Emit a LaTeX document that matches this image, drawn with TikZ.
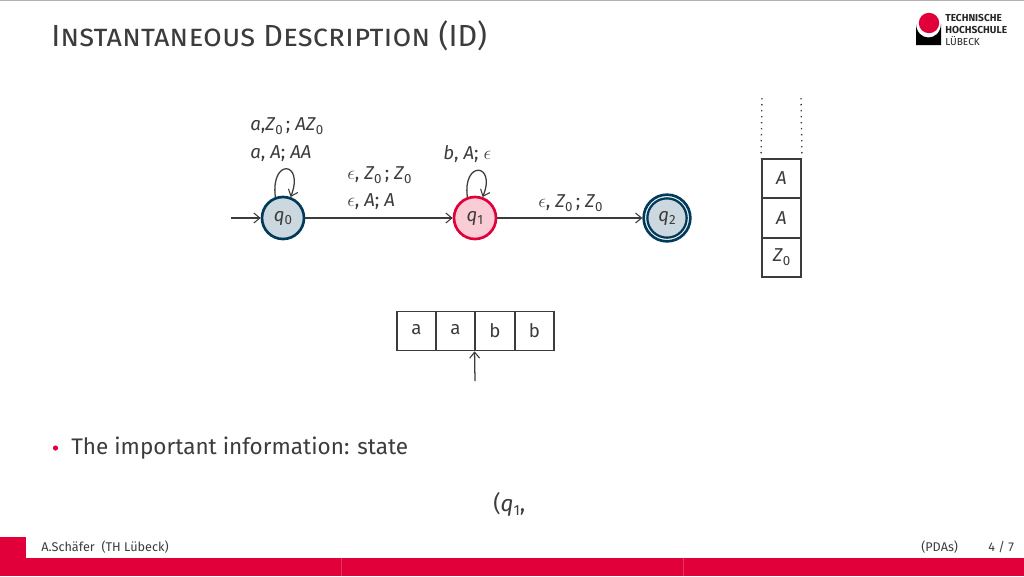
\documentclass[tikz,border=0pt]{standalone}
\usepackage{fontspec}
\setmainfont[Scale=1]{Fira Sans}
\usetikzlibrary{arrows.meta}
\definecolor{thred}{HTML}{E2003A}
\definecolor{thblue}{HTML}{003B5C}
\definecolor{q0fill}{HTML}{CCD8E0}
\definecolor{q1fill}{HTML}{F9CCD6}
\definecolor{ink}{HTML}{3C3C3C}
\newcommand{\mi}[1]{\textit{#1}}
\newcommand{\sbs}[1]{\raisebox{-0.2em}{\fontsize{10}{10}\selectfont #1}}
\tikzset{
  x=0.75pt,y=-0.75pt,
  every node/.style={text=ink,font=\fontsize{14}{16}\selectfont},
  conn/.style={draw=ink,line width=0.95pt,-{Straight Barb[length=4.5pt,width=7.5pt,line width=0.8pt]}},
  state/.style={circle,minimum size=31.5pt,inner sep=0pt,line width=2pt},
  cell/.style={draw=ink,line width=1.2pt,minimum width=29.5pt,minimum height=29.3pt,inner sep=0pt,anchor=center},
  lab/.style={anchor=west,inner sep=0pt},
  foot/.style={font=\fontsize{9.5}{11}\selectfont,inner sep=0pt,text=ink},
  logo/.style={font=\fontsize{7.6}{9}\selectfont\bfseries,text=black!85,inner sep=0pt,anchor=west}
}
\begin{document}
\begin{tikzpicture}
\useasboundingbox (0,0) rectangle (1024,576);
\fill[white] (0,0) rectangle (1024,576);
\fill[black!30] (0,0) rectangle (1024,1);
% title
\node[anchor=west,inner sep=0pt,font=\fontsize{22.9}{26}\selectfont,text=ink] (title) at (51,36) {\scshape Instantaneous Description (ID)};
% logo
\fill[black] (916,24) -- (916,45) -- (941,45) -- (941,24) .. controls (940,42) and (917,42) .. (916,24) -- cycle;
\fill[thred] (929,23) circle (10.2);
\node[logo] (l1) at (945,18) {TECHNISCHE};
\node[logo] (l2) at (945,29.5) {HOCHSCHULE};
\node[logo,font=\fontsize{7.6}{9}\selectfont] (l3) at (945,41) {LÜBECK};
% states
\node[state,draw=thblue,fill=q0fill] (q0) at (283,218) {\mi{q}\sbs{0}};
\node[state,draw=thred,fill=q1fill] (q1) at (475,218) {\mi{q}\sbs{1}};
\node[circle,draw=thblue,fill=white,line width=2pt,minimum size=35pt,inner sep=0pt] (q2o) at (667,218) {};
\node[state,draw=thblue,fill=q0fill,minimum size=29.5pt,line width=1.7pt] (q2) at (667,218) {\mi{q}\sbs{2}};
\coordinate (start) at (231,218);
\draw[conn] (start) -- (q0);
\draw[conn] (q0) -- (q1);
\draw[conn] (q1) -- (q2o);
\draw[conn] (q0.110) .. controls +(-5,-39) and +(14,-36) .. (q0.70);
\draw[conn] (q1.110) .. controls +(-5,-37) and +(14,-34) .. (q1.70);
% labels
\node[lab] (la1) at (250,126) {\mi{a},\mi{Z}\sbs{0}\,; \mi{AZ}\sbs{0}};
\node[lab] (la2) at (250,153.5) {\mi{a}, \mi{A}; \mi{AA}};
\node[lab] (la3) at (347,175) {$\epsilon$, \mi{Z}\sbs{0}\,; \mi{Z}\sbs{0}};
\node[lab] (la4) at (347,202) {$\epsilon$, \mi{A}; \mi{A}};
\node[lab] (la5) at (443,154) {\mi{b}, \mi{A}; $\epsilon$};
\node[lab] (la6) at (538,203) {$\epsilon$, \mi{Z}\sbs{0}\,; \mi{Z}\sbs{0}};
% stack
\node[cell] (s1) at (781.5,178.5) {\mi{A}};
\node[cell] (s2) at (781.5,218) {\mi{A}};
\node[cell] (s3) at (781.5,257.5) {\mi{Z}\sbs{0}};
\coordinate (d1) at (762,98);
\coordinate (d2) at (801,98);
\draw[ink,line width=1pt,dash pattern=on 1pt off 3.5pt] (d1) -- (s1.north west);
\draw[ink,line width=1pt,dash pattern=on 1pt off 3.5pt] (d2) -- (s1.north east);
% tape
\node[cell] (t1) at (416.5,331) {\raisebox{2pt}{a}};
\node[cell] (t2) at (455.5,331) {\raisebox{2pt}{a}};
\node[cell] (t3) at (495,331) {b};
\node[cell] (t4) at (534.5,331) {b};
\coordinate (hd) at (475,381);
\draw[conn] (hd) -- (t3.south west);
% bullet
\fill[thred] (55.5,448) circle (2.6);
\node[anchor=west,inner sep=0pt,font=\fontsize{16.9}{20}\selectfont,text=ink] (b) at (71,448.5) {The important information: state};
\node[anchor=west,inner sep=0pt,font=\fontsize{16.9}{20}\selectfont,text=ink] (f) at (493,504) {(\mi{q}\raisebox{-0.2em}{\fontsize{11}{11}\selectfont 1},};
% footer
\fill[thred] (0,558) rectangle (1024,576);
\fill[thred] (0,537) rectangle (26,558);
\draw[white,opacity=0.2,line width=0.5pt] (341,558) -- (341,576);
\draw[white,opacity=0.2,line width=0.5pt] (683,558) -- (683,576);
\node[foot,anchor=west] (fa) at (41,547) {A.Schäfer\ \ (TH Lübeck)};
\node[foot,anchor=west] (fb) at (921,547) {(PDAs)};
\node[foot,anchor=west] (fc) at (988,547) {4 / 7};
\end{tikzpicture}
\end{document}
